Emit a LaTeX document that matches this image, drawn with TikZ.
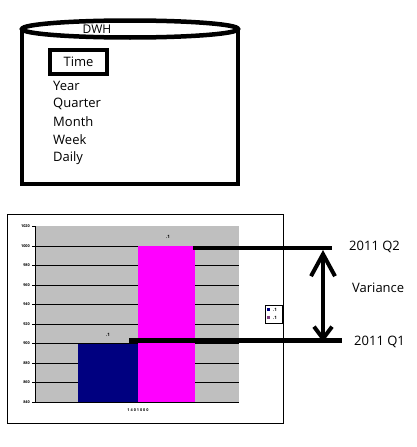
\documentclass[tikz,border=0pt]{standalone}
\usepackage{fontspec}
\setmainfont{Open Sans}
\usetikzlibrary{arrows.meta}
\begin{document}
\begin{tikzpicture}[x=1pt,y=-1pt,
  thick5/.style={line width=4.5pt},
  lbl/.style={inner sep=0pt,font=\fontsize{13}{15}\selectfont,anchor=west},
  tick/.style={inner sep=0pt,font=\fontsize{3.8}{4}\selectfont\bfseries,anchor=east},
  grid/.style={line width=0.8pt,black}]
\useasboundingbox (0,0) rectangle (417,447);
% cylinder
\draw[thick5] (22,29) -- (22,184) -- (238,184) -- (238,29);
\draw[thick5] (130,29) ellipse [x radius=108, y radius=8.5];
\node[inner sep=0pt,font=\fontsize{12}{13}\selectfont] (dwh) at (97,29) {DWH};
\node[draw,line width=4pt,minimum width=57pt,minimum height=24pt,inner sep=0pt,font=\fontsize{13}{15}\selectfont] (time) at (78.5,62) {Time};
\node[lbl] (year) at (53,86) {Year};
\node[lbl] (quarter) at (53,104) {Quarter};
\node[lbl] (month) at (53,122) {Month};
\node[lbl] (week) at (53,140) {Week};
\node[lbl] (daily) at (53,158) {Daily};
% chart frame
\draw[line width=0.8pt] (7,214) rectangle (283,423);
\fill[fill=black!25] (35,226) rectangle (239,402);
\foreach \y in {246,265.5,285,304.5,324,343.5,363,382.5}
  \draw[grid] (35,\y) -- (239,\y);
\draw[grid] (35,226) -- (35,402) -- (239,402);
\foreach \y/\t in {226/1020,246/1000,265.5/980,285/960,304.5/940,324/920,343.5/900,363/880,382.5/860,402/840}{
  \draw[grid] (32,\y) -- (35,\y);
  \node[tick] at (30,\y) {\t};
}
\fill[fill={rgb,255:red,0;green,0;blue,128}] (78,343.5) rectangle (138,402);
\fill[fill={rgb,255:red,255;green,0;blue,255}] (138,246) rectangle (195,402);
\node[inner sep=0pt,font=\fontsize{4.5}{5}\selectfont\bfseries] (d1) at (108,335) {.1};
\node[inner sep=0pt,font=\fontsize{4.5}{5}\selectfont\bfseries] (d2) at (168,237) {.1};
\node[inner sep=0pt,font=\fontsize{3.8}{4}\selectfont\bfseries] (xl) at (138,410) {1 4 0 1 0 0 0};
% legend
\node[draw,line width=0.5pt,minimum width=17pt,minimum height=18pt,inner sep=0pt] (leg) at (273.5,314) {};
\fill[fill={rgb,255:red,0;green,0;blue,128}] (267,308) rectangle (270,311);
\fill[fill={rgb,255:red,128;green,64;blue,128}] (267,316) rectangle (270,319);
\node[inner sep=0pt,font=\fontsize{4.5}{5}\selectfont\bfseries] (l1) at (275,309.5) {.1};
\node[inner sep=0pt,font=\fontsize{4.5}{5}\selectfont\bfseries] (l2) at (275,317.5) {.1};
% thick lines
\coordinate (q2a) at (193,248);
\coordinate (q2b) at (332,248);
\coordinate (q1a) at (129,340.5);
\coordinate (q1b) at (342,340.5);
\draw[thick5] (q2a) -- (q2b);
\draw[thick5] (q1a) -- (q1b);
\coordinate (at) at (323,250);
\coordinate (ab) at (323,342);
\draw[line width=4pt,{Straight Barb[length=22pt,width=24pt,line width=4pt]}-{Straight Barb[length=12pt,width=18pt,line width=4pt]}] (at) -- (ab);
\node[lbl] (q2) at (349,247) {2011 Q2};
\node[lbl] (var) at (352,288) {Variance};
\node[lbl] (q1) at (354,342) {2011 Q1};
\end{tikzpicture}
\end{document}
